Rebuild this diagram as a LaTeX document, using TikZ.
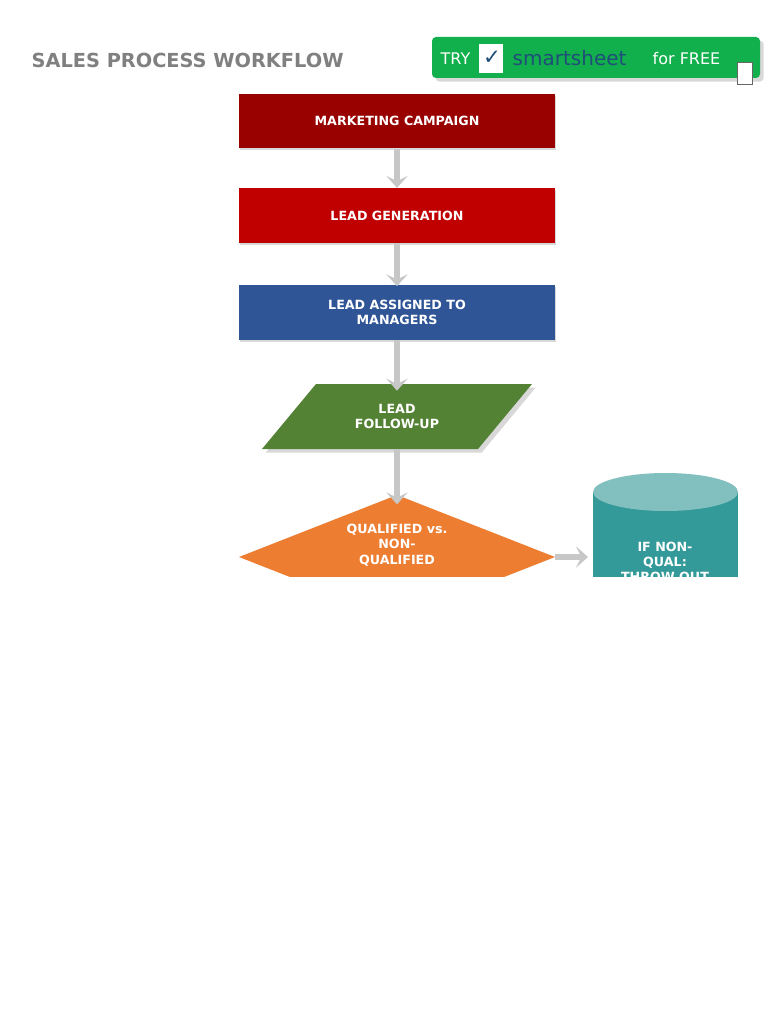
\documentclass[tikz,border=0pt]{standalone}
\usepackage{fontspec}
\setmainfont{DejaVu Sans}
\usetikzlibrary{shapes.geometric,arrows.meta,shadows}
\definecolor{mk}{HTML}{990000}
\definecolor{lg}{HTML}{C00000}
\definecolor{la}{HTML}{2F5597}
\definecolor{fu}{HTML}{548235}
\definecolor{qu}{HTML}{ED7D31}
\definecolor{cyb}{HTML}{339999}
\definecolor{cyt}{HTML}{82C0C0}
\definecolor{ssg}{HTML}{12B04C}
\definecolor{ssb}{HTML}{1F4E79}
\begin{document}
\begin{tikzpicture}[x=0.75pt,y=-0.75pt,
  lbl/.style={text=white,font=\bfseries\fontsize{9.5pt}{11.5pt}\selectfont,align=center},
  boxs/.style={draw=none,minimum width=237pt,minimum height=41pt,drop shadow={opacity=0.3,shadow xshift=1pt,shadow yshift=-1.5pt}},
  flow/.style={draw=black!22,line width=4pt,-{Stealth[length=9pt,width=16pt,inset=4pt]}}]
\useasboundingbox (0,0) rectangle (768,1024);
\fill[white] (0,0) rectangle (768,1024);
\node[anchor=west,text=black!50,font=\bfseries\fontsize{14.5pt}{16pt}\selectfont] (title) at (27,60) {SALES PROCESS WORKFLOW};
% smartsheet button
\fill[ssg,rounded corners=3pt,drop shadow={opacity=0.3}] (432,37) rectangle (760,78);
\node[anchor=west,text=white,font=\fontsize{12pt}{14pt}\selectfont] (try) at (436,59) {TRY};
\fill[white] (479,44) rectangle (503,73);
\node[text=ssb,font=\bfseries\fontsize{16pt}{16pt}\selectfont] (chk) at (492,58) {✓};
\node[anchor=west,text=ssb,font=\fontsize{15pt}{16pt}\selectfont] (ss) at (508,58) {smartsheet};
\node[anchor=west,text=white,font=\fontsize{12pt}{14pt}\selectfont] (free) at (648,59) {for FREE};
\fill[white,draw=black!60] (737,62) rectangle (752,84);
% boxes
\node[boxs,fill=mk,lbl] (b1) at (397,121) {MARKETING CAMPAIGN};
\node[boxs,fill=lg,lbl] (b2) at (397,215.5) {LEAD GENERATION};
\node[boxs,fill=la,lbl] (b3) at (397,312.5) {LEAD ASSIGNED TO\\MANAGERS};
\fill[fu,drop shadow={opacity=0.3}] (316,384) -- (532,384) -- (478,449) -- (262,449) -- cycle;
\node[lbl] (b4) at (397,416.5) {LEAD\\FOLLOW-UP};
\coordinate (b4t) at (397,384);
\coordinate (b4b) at (397,449);
\fill[qu] (397,495) -- (555,557) -- (397,619) -- (239,557) -- cycle;
\node[lbl] (b5) at (397,545) {QUALIFIED vs.\\NON-\\QUALIFIED};
\coordinate (b5t) at (397,495);
\coordinate (b5r) at (555,557);
% cylinder
\fill[cyb] (593,492) rectangle (738,640);
\fill[cyt] (665.5,492) ellipse [x radius=72.5, y radius=19];
\node[lbl] (b6) at (665,562) {IF NON-\\QUAL:\\THROW OUT};
\coordinate (b6l) at (588,557);
% arrows
\draw[flow] (b1.south) -- (b2.north);
\draw[flow] (b2.south) -- ([yshift=-1pt]b3.north);
\draw[flow] (b3.south) -- ([yshift=-5pt]b4t);
\draw[flow] (b4b) -- ([yshift=-7pt]b5t);
\draw[flow] (b5r) -- (b6l);
% page cut
\fill[white] (0,577) rectangle (768,1024);
\end{tikzpicture}
\end{document}
